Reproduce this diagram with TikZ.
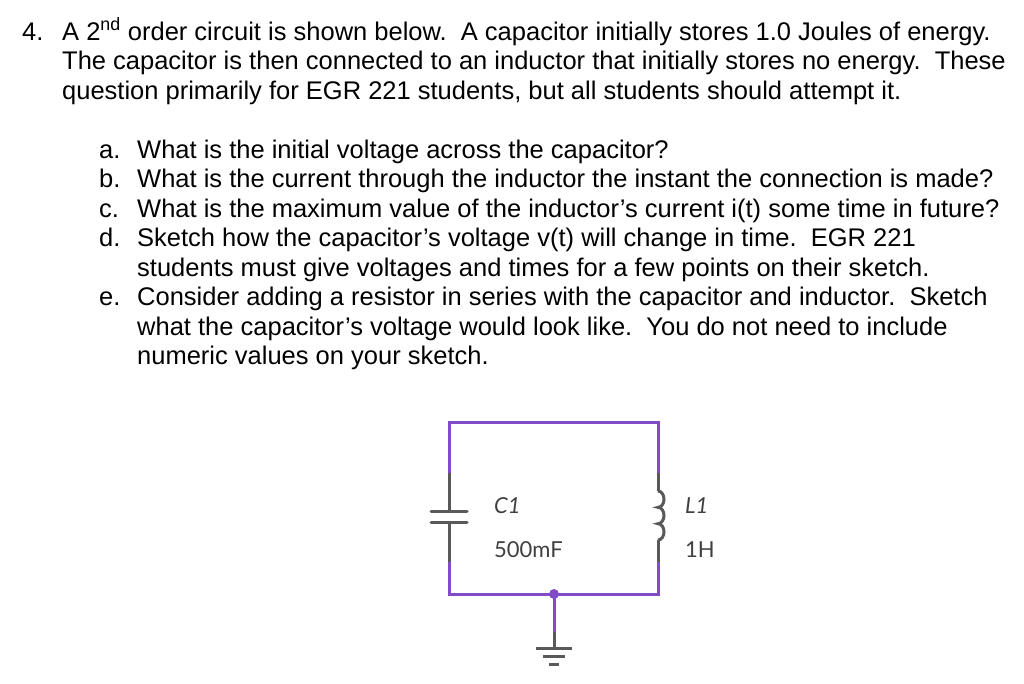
\documentclass[tikz,border=0pt]{standalone}
\usepackage{fontspec}
\setmainfont{Liberation Sans}
\newfontfamily\lato{Lato}
\begin{document}
\begin{tikzpicture}[x=1pt,y=-1pt,
  txt/.style={anchor=base west,inner sep=0pt,font=\fontsize{25.5}{29}\selectfont},
  lbl/.style={anchor=base west,inner sep=0pt,font=\lato\fontsize{22}{26}\selectfont,text=black!75},
  wire/.style={draw=violet!60!blue!70!white,line width=3pt},
  lead/.style={draw=black!65,line width=3pt}]
\useasboundingbox (0,0) rectangle (1024,683);
\node[txt] (n4) at (22,40) {4.};
\node[txt] (l1) at (62,40) {A 2\textsuperscript{nd} order circuit is shown below.\ \ A capacitor initially stores 1.0 Joules of energy.};
\node[txt] (l2) at (62,69) {The capacitor is then connected to an inductor that initially stores no energy.\ \ These};
\node[txt] (l3) at (62,99) {question primarily for EGR 221 students, but all students should attempt it.};
\node[txt] (ia) at (99,158) {a.};
\node[txt] (ta) at (137,158) {What is the initial voltage across the capacitor?};
\node[txt] (ib) at (99,187) {b.};
\node[txt] (tb) at (137,187) {What is the current through the inductor the instant the connection is made?};
\node[txt] (ic) at (99,217) {c.};
\node[txt] (tc) at (137,217) {What is the maximum value of the inductor’s current i(t) some time in future?};
\node[txt] (id) at (99,246) {d.};
\node[txt] (td) at (137,246) {Sketch how the capacitor’s voltage v(t) will change in time.\ \ EGR 221};
\node[txt] (td2) at (137,276) {students must give voltages and times for a few points on their sketch.};
\node[txt] (ie) at (99,305) {e.};
\node[txt] (te) at (137,305) {Consider adding a resistor in series with the capacitor and inductor.\ \ Sketch};
\node[txt] (te2) at (137,335) {what the capacitor’s voltage would look like.\ \ You do not need to include};
\node[txt] (te3) at (137,364) {numeric values on your sketch.};
% circuit
\coordinate (tl) at (449,422); \coordinate (tr) at (658,422);
\coordinate (bl) at (449,594); \coordinate (br) at (658,594);
\coordinate (dot) at (554,594);
\draw[wire] (449,473) -- (tl) -- (tr) -- (658,473);
\draw[wire] (449,562) -- (bl) -- (br) -- (658,562);
\draw[lead] (449,473) -- (449,511) (449,522) -- (449,562);
\draw[lead,line cap=round] (431,511) -- (467,511) (431,522) -- (467,522);
\draw[lead] (658,473) -- (658,491) (658,540) -- (658,562);
\draw[lead] (658,491) arc[start angle=270,end angle=450,x radius=6,y radius=8.17]
  arc[start angle=270,end angle=450,x radius=6,y radius=8.17]
  arc[start angle=270,end angle=450,x radius=6,y radius=8.17];
\fill[violet!60!blue!70!white] (dot) circle (5);
\draw[wire] (dot) -- (554,632);
\draw[lead] (554,632) -- (554,648);
\draw[lead] (536,648) -- (572,648) (543,656) -- (565,656) (549,664) -- (559,664);
\node[lbl] (c1) at (494,513) {\itshape C1};
\node[lbl] (c1v) at (494,557) {500mF};
\node[lbl] (l1n) at (685,513) {\itshape L1};
\node[lbl] (l1v) at (685,557) {1H};
\end{tikzpicture}
\end{document}
